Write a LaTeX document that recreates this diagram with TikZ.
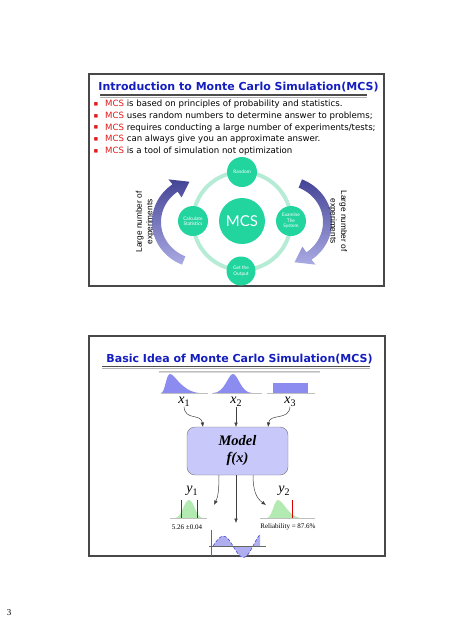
\documentclass[tikz,border=0pt]{standalone}
\usepackage{fontspec}
\setmainfont{Liberation Serif}
\newfontfamily\tahfont{DejaVu Sans}
\newfontfamily\arialfont{Liberation Sans}
\newfontfamily\latofont{Lato}
\usetikzlibrary{arrows.meta}
\definecolor{ttlblue}{RGB}{20,30,190}
\definecolor{mcsred}{RGB}{225,25,25}
\definecolor{mcsgreen}{RGB}{34,212,158}
\definecolor{ringc}{RGB}{182,236,214}
\definecolor{arrdark}{RGB}{68,68,150}
\definecolor{arrlight}{RGB}{170,170,228}
\definecolor{distblue}{RGB}{140,140,240}
\definecolor{modelfill}{RGB}{200,200,250}
\definecolor{greenfill}{RGB}{178,234,178}
\definecolor{framec}{RGB}{72,72,72}
\definecolor{wavefill}{RGB}{175,175,240}
\definecolor{wavec}{RGB}{70,70,210}
\newcommand{\mcvar}[2]{\textit{#1}\raisebox{-2.5pt}{\fontsize{10}{10}\selectfont #2}}
\tikzset{
  frame/.style={draw=framec, line width=1.3pt},
  title/.style={anchor=base, inner sep=0pt, text=ttlblue, font=\tahfont\bfseries\fontsize{11}{11}\selectfont},
  bul/.style={anchor=base west, inner sep=0pt, font=\tahfont\fontsize{8.6}{8.6}\selectfont},
  dotm/.style={anchor=base, inner sep=0pt, text=mcsred, font=\tahfont\fontsize{4.5}{4.5}\selectfont},
  circ/.style={circle, fill=mcsgreen, text=white, inner sep=0pt, align=center, font=\latofont\fontsize{4.8}{5.4}\selectfont},
  sidelbl/.style={align=center, inner sep=0pt, font=\arialfont\fontsize{8.3}{10.5}\selectfont},
  conn/.style={draw=black!75, line width=0.5pt, -{Latex[length=4.5pt,width=3.6pt]}},
  xlbl/.style={inner sep=0pt, font=\fontsize{14}{14}\selectfont},
  small/.style={inner sep=0pt, font=\fontsize{7}{7}\selectfont},
}
\begin{document}
\begin{tikzpicture}[x=1pt,y=-1pt]
\useasboundingbox (0,0) rectangle (474,622);
% ---------- slide 1 ----------
\draw[frame] (89,74) rectangle (384,286);
\node[title] (t1) at (238.5,90.7) {Introduction to Monte Carlo Simulation(MCS)};
\draw[line width=1.7pt, black!70] (100,95) -- (367,95);
\draw[line width=0.8pt, black!30] (100,97) -- (367,97);
\foreach \i/\txt in {1/{is based on principles of probability and statistics.},
                    2/{uses random numbers to determine answer to problems;},
                    3/{requires conducting a large number of experiments/tests;},
                    4/{can always give you an approximate answer.},
                    5/{is a tool of simulation not optimization}}{
  \node[dotm] (d\i) at (96,{105.4+(\i-1)*11.67}) {■};
  \node[bul] (b\i) at (105,{106.7+(\i-1)*11.67}) {\textcolor{mcsred}{MCS} \txt};
}
% ring and circles
\draw[ringc, line width=4pt] (242,221) circle (49);
\node[circ, minimum size=30pt] (rnd) at (242,172) {Random};
\node[circ, minimum size=30pt] (calc) at (193,221) {Calculate\\Statistics};
\node[circ, minimum size=30pt] (exam) at (291,221) {Examine\\The\\System};
\node[circ, minimum size=29pt] (outp) at (241,271) {Get the\\Output};
\node[circ, minimum size=46pt, font=\latofont\fontsize{15}{15}\selectfont] (mcs) at (242,221) {MCS};
% curved arrows
\shade[top color=arrdark, bottom color=arrlight]
  plot[domain=248:125, samples=40] ({200+48*cos(\x)},{222-46*sin(\x)})
  -- ({200+55*cos(125)},{222-52*sin(125)})
  -- ({200+43.5*cos(104)},{222-41.5*sin(104)})
  -- ({200+32*cos(125)},{222-30*sin(125)})
  -- plot[domain=125:248, samples=40] ({200+39*cos(\x)},{222-37*sin(\x)})
  -- cycle;
\shade[top color=arrdark, bottom color=arrlight]
  plot[domain=68:-55, samples=40] ({284+48*cos(\x)},{222-46*sin(\x)})
  -- ({284+55*cos(-55)},{222-52*sin(-55)})
  -- ({284+43.5*cos(-76)},{222-41.5*sin(-76)})
  -- ({284+32*cos(-55)},{222-30*sin(-55)})
  -- plot[domain=-55:68, samples=40] ({284+39*cos(\x)},{222-37*sin(\x)})
  -- cycle;
\node[sidelbl, rotate=90] (lbl1) at (145,222) {Large number of\\experiments};
\node[sidelbl, rotate=-90] (lbl2) at (338,221) {Large number of\\experiments};
% ---------- slide 2 ----------
\draw[frame] (89,336) rectangle (385,556);
\node[title] (t2) at (239.5,362.3) {Basic Idea of Monte Carlo Simulation(MCS)};
\draw[line width=1.7pt, black!70] (102,366.5) -- (370,366.5);
\draw[line width=0.8pt, black!30] (102,368.5) -- (370,368.5);
\draw[line width=0.6pt, black!25] (159,371) -- (320,371);
\draw[line width=0.4pt, black!15] (159,372.5) -- (320,372.5);
% input distributions
\fill[distblue] (161,393) .. controls (165,393) and (166,374) .. (170,374)
   .. controls (175,374) and (181,391) .. (199,393) -- cycle;
\draw[black!25, line width=0.6pt] (161,393.3) -- (208,393.3);
\fill[distblue] (213,393) .. controls (225,393) and (228,374) .. (233,374)
   .. controls (238,374) and (241,393) .. (252,393) -- cycle;
\draw[black!25, line width=0.6pt] (212,393.3) -- (262,393.3);
\fill[distblue] (273,383) rectangle (308,393);
\draw[black!25, line width=0.6pt] (267,393.3) -- (315,393.3);
\node[xlbl] (x1) at (184,402) {\mcvar{x}{1}};
\node[xlbl] (x2) at (236,402) {\mcvar{x}{2}};
\node[xlbl] (x3) at (290,402) {\mcvar{x}{3}};
% model
\node[draw=black!55, fill=modelfill, rounded corners=8pt, minimum width=101pt, minimum height=48pt,
      align=center, inner sep=0pt, font=\bfseries\itshape\fontsize{14.5}{17}\selectfont] (model) at (237.5,451) {Model\\\textit{f}(\textit{x})};
\coordinate (m1) at (203,427);
\coordinate (m2) at (236,427);
\coordinate (m3) at (268,427);
\draw[conn] (x1.south) .. controls (185,421) and (201,413) .. (m1);
\draw[conn] (x2.south) -- (m2);
\draw[conn] (x3.south) .. controls (289,421) and (270,413) .. (m3);
\coordinate (o1s) at (219,475);
\coordinate (o2s) at (236,475);
\coordinate (o3s) at (253,475);
\coordinate (o1) at (214,505);
\coordinate (o2) at (236,523);
\coordinate (o3) at (266,505);
\draw[conn] (o1s) .. controls (219,490) and (218,497) .. (o1);
\draw[conn] (o2s) -- (o2);
\draw[conn] (o3s) .. controls (253,490) and (256,498) .. (o3);
% outputs
\node[xlbl] (y1) at (192,491) {\mcvar{y}{1}};
\node[xlbl] (y2) at (284,491) {\mcvar{y}{2}};
\fill[greenfill] (175,518) .. controls (182,518) and (184,500) .. (189,500)
   .. controls (194,500) and (196,518) .. (203,518) -- cycle;
\draw[black!25, line width=0.6pt] (170,518.3) -- (207,518.3);
\draw[red!85!black, line width=0.6pt] (181,500) -- (181,518) (197,500) -- (197,518);
\fill[greenfill] (267,518) .. controls (272,518) and (274,500) .. (278,500)
   .. controls (283,500) and (288,516) .. (300,518) -- cycle;
\draw[black!25, line width=0.6pt] (260,518.3) -- (315,518.3);
\draw[red!85!black, line width=0.6pt] (292,500) -- (292,518);
\node[small] (v1) at (187,527) {5.26 ±0.04};
\node[small] (v2) at (288,527) {Reliability = 87.6\%};
% wave
\fill[wavefill] plot[domain=213:260, samples=60] ({\x},{546-(9+0.08*(\x-213))*sin((\x-213)*9)}) -- (260,546) -- cycle;
\draw[wavec, line width=0.6pt, densely dashed] plot[domain=213:260, samples=60] ({\x},{546-(9+0.08*(\x-213))*sin((\x-213)*9)});
\draw[black!60, line width=0.6pt] (211,530) -- (211,556);
\draw[black!60, line width=0.6pt] (209,546) -- (266,546);
% page number
\node[inner sep=0pt, font=\fontsize{9}{9}\selectfont] (pg) at (9,613) {3};
\end{tikzpicture}
\end{document}
